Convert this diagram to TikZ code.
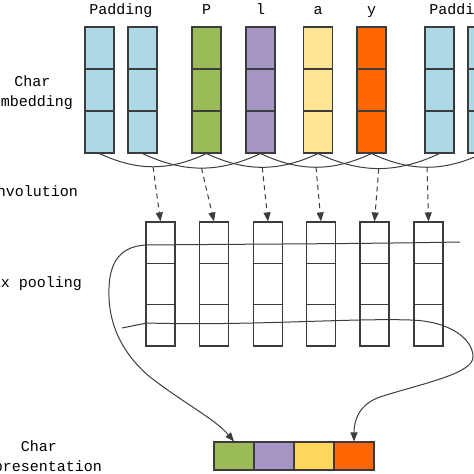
\documentclass[tikz,border=0pt]{standalone}
\usepackage{fontspec}
\setmonofont{Liberation Mono}
\usetikzlibrary{calc, arrows.meta}

\definecolor{padblue}{RGB}{173,216,230}
\definecolor{pgreen}{RGB}{155,187,89}
\definecolor{lpurple}{RGB}{166,150,196}
\definecolor{ayellow}{RGB}{255,228,150}
\definecolor{yorange}{RGB}{255,102,0}
\definecolor{ryellow}{RGB}{255,215,95}
\definecolor{edge}{RGB}{60,60,60}

\tikzset{
  cellcol/.style={draw=edge, line width=1.1pt, inner sep=0pt, minimum width=29pt,
    path picture={\foreach \k in {1,2} \draw[edge, line width=1.1pt]
      ($(path picture bounding box.north west)!\k/3!(path picture bounding box.south west)$) --
      ($(path picture bounding box.north east)!\k/3!(path picture bounding box.south east)$);}},
  embcol/.style={cellcol, minimum height=126pt, fill=#1},
  poolcol/.style={cellcol, minimum height=124pt, fill=white},
  repcell/.style={draw=edge, line width=1.1pt, inner sep=0pt, minimum width=40pt, minimum height=28pt, fill=#1},
  lbl/.style={font=\ttfamily\fontsize{15}{20}\selectfont, align=center},
  conv/.style={draw=edge, line width=1pt, dash pattern=on 5pt off 4pt, -{Triangle[length=9pt,width=7pt]}},
  wave/.style={draw=edge, line width=1pt, -{Triangle[length=9pt,width=7pt]}},
}

\begin{document}
\begin{tikzpicture}[x=1pt, y=1pt]
  \useasboundingbox (0,0) rectangle (474,474);
  \clip (0,0) rectangle (474,474);

  % char embedding
  \node[embcol=padblue] (e1) at (99.5,384)  {};
  \node[embcol=padblue] (e2) at (142.5,384) {};
  \node[embcol=pgreen]  (e3) at (206.5,384) {};
  \node[embcol=lpurple] (e4) at (260.5,384) {};
  \node[embcol=ayellow] (e5) at (318,384)   {};
  \node[embcol=yorange] (e6) at (371.5,384) {};
  \node[embcol=padblue] (e7) at (439.5,384) {};
  \node[embcol=padblue] (e8) at (482.5,384) {};

  % max pooling
  \foreach \i/\x in {1/160.5, 2/214, 3/268, 4/321, 5/374.5, 6/428.5}
    \node[poolcol] (p\i) at (\x,190) {};

  % char representation
  \node[repcell=pgreen]  (r1) at (234,18) {};
  \node[repcell=lpurple] (r2) at (274,18) {};
  \node[repcell=ryellow] (r3) at (314,18) {};
  \node[repcell=yorange] (r4) at (354,18) {};

  % convolution windows
  \foreach \a/\b/\m in {e1/e3/m1, e2/e4/m2, e3/e5/m3, e4/e6/m4, e5/e7/m5, e6/e8/m6}
    \draw[edge, line width=1pt] (\a.south) to[bend right=25] coordinate (\m) (\b.south);
  \foreach \i in {1,...,6}
    \draw[conv] (m\i) -- (p\i.north);

  % pooling rows
  \coordinate (w1) at (460,232);
  \coordinate (w2) at (122,146);
  \draw[wave] (w1) .. controls (350,230) and (250,230) .. (147,229)
    .. controls (115,228) and (108,205) .. (109,177)
    .. controls (110,145) and (125,118) .. (150,97)
    .. controls (185,70) and (215,55) .. (r1.north);
  \draw[wave] (w2) -- (147,151)
    .. controls (250,148) and (350,156) .. (410,154)
    .. controls (450,153) and (473,135) .. (473,117)
    .. controls (473,100) and (420,90) .. (380,77)
    .. controls (360,70) and (354,55) .. (r4.north);

  % labels
  \node[lbl, anchor=base] (tpad1) at (121,459)   {Padding};
  \node[lbl, anchor=base] (tp)    at (206.5,459) {P};
  \node[lbl, anchor=base] (tl)    at (260.5,459) {l};
  \node[lbl, anchor=base] (ta)    at (318,459)   {a};
  \node[lbl, anchor=base] (ty)    at (371.5,459) {y};
  \node[lbl, anchor=base] (tpad2) at (461,459)   {Padding};
  \node[lbl] (lemb) at (32.5,381) {Char\\embedding};
  \node[lbl, anchor=base] (lconv) at (28.5,277) {Convolution};
  \node[lbl, anchor=base] (lpool) at (32.5,186) {Max pooling};
  \node[lbl] (lrep) at (39,16) {Char\\representation};
\end{tikzpicture}
\end{document}
